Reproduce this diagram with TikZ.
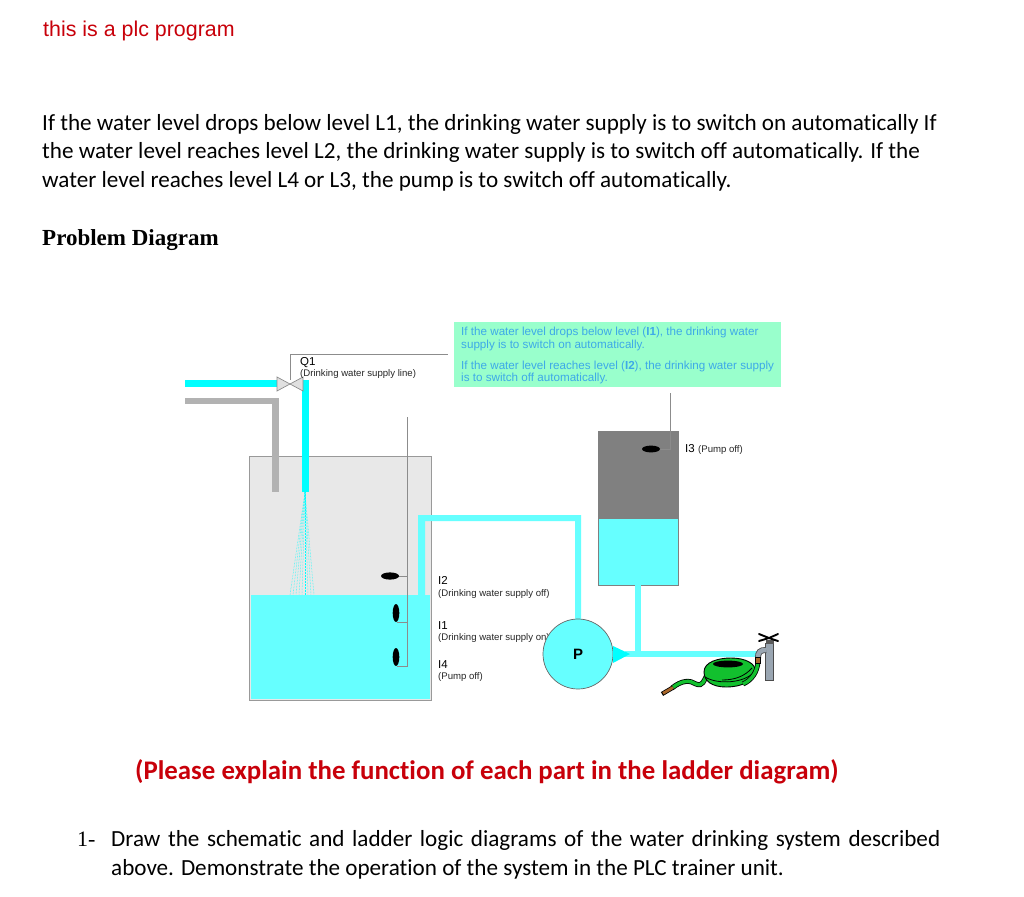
\documentclass[tikz,border=0pt]{standalone}
\usepackage{fontspec}
\setmainfont[Ligatures=NoCommon]{Carlito}
\newfontfamily\arialf{Liberation Sans}
\newfontfamily\timesf{Liberation Serif}
\definecolor{water}{HTML}{66FFFF}
\definecolor{bright}{HTML}{00FFFF}
\definecolor{mint}{HTML}{99FFCC}
\definecolor{minttext}{HTML}{3DA9E8}
\definecolor{hoseg}{HTML}{12C02E}
\definecolor{redt}{HTML}{C8000A}
\definecolor{hosebrown}{HTML}{A8662A}
\definecolor{tapgrey}{HTML}{9AA6B2}
\tikzset{
  body/.style={anchor=base west,inner sep=0pt,font=\fontsize{23.12}{23.12}\selectfont,text=black},
  lab/.style={anchor=base west,inner sep=0pt,font=\arialf\fontsize{9.6}{9.6}\selectfont,text=black!85},
  labhead/.style={anchor=base west,inner sep=0pt,font=\arialf\fontsize{11.5}{11.5}\selectfont,text=black},
  minttxt/.style={anchor=base west,inner sep=0pt,font=\arialf\fontsize{11.65}{11.65}\selectfont,text=minttext},
  thin line/.style={draw=black!45,line width=.9pt},
  hoseout/.style={draw=black,line width=5pt},
  hosein/.style={draw=hoseg,line width=3.4pt},
}
\begin{document}
\begin{tikzpicture}[x=1pt,y=-1pt]
\useasboundingbox (0,0) rectangle (1024,896);
\fill[white] (0,0) rectangle (1024,896);
\node[anchor=base west,inner sep=0pt,font=\arialf\fontsize{21.4}{21.4}\selectfont,text=redt] (t0) at (43,37) {this is a plc program};
\node[body] (t1) at (42,131) {If the water level drops below level L1, the drinking water supply is to switch on automatically If};
\node[body] (t2) at (42,159) {the water level reaches level L2, the drinking water supply is to switch off automatically. If the};
\node[body] (t3) at (42,187) {water level reaches level L4 or L3, the pump is to switch off automatically.};
\node[anchor=base west,inner sep=0pt,font=\timesf\bfseries\fontsize{23}{23}\selectfont] (t4) at (42,245) {Problem Diagram};
\node[anchor=base west,inner sep=0pt,font=\bfseries\fontsize{26.85}{26.85}\selectfont,text=redt] (t5) at (135,779) {(Please explain the function of each part in the ladder diagram)};
\node[anchor=base west,inner sep=0pt,font=\timesf\fontsize{22}{22}\selectfont] (t6) at (77,846) {1-};
\node[body] (t7) at (111,846) {\makebox[829pt][s]{Draw the schematic and ladder logic diagrams of the water drinking system described}};
\node[body] (t8) at (111,875) {above.  Demonstrate the operation of the system in the PLC trainer unit.};
% mint box
\fill[mint] (454,322) rectangle (781,387);
\node[minttxt] (m1) at (461,335) {If the water level drops below level (\textbf{I1}), the drinking water};
\node[minttxt] (m2) at (461,348) {supply is to switch on automatically.};
\node[minttxt] (m3) at (461,369) {If the water level reaches level (\textbf{I2}), the drinking water supply};
\node[minttxt] (m4) at (461,381) {is to switch off automatically.};
% tank
\draw[fill=black!9,draw=black!40,line width=.9pt] (249,456) rectangle (431,700);
\fill[water] (250.5,595) rectangle (430,699);
% spray
\foreach \xx in {290,293,296,299,302,305,308,311,314}
  \draw[bright,densely dotted,line width=.5pt] (305,492) -- (\xx,595);
% supply pipes
\fill[bright] (185,380) rectangle (279,387);
\fill[bright] (302,380) rectangle (309,492);
\fill[black!30] (185,398) rectangle (279,404);
\fill[black!30] (272,398) rectangle (279,492);
\draw[thin line] (290,380) -- (290,354) -- (448,354);
\draw[fill=black!12,draw=black!45,line width=.7pt] (277,377) -- (303,391) -- (303,377) -- (277,391) -- cycle;
\node[labhead] (q1) at (300,365) {Q1};
\node[lab] (q1b) at (300,376) {(Drinking water supply line)};
% sensor rod
\draw[thin line] (407,417) -- (407,666) -- (397,666);
\draw[thin line] (407,622) -- (397,622);
\draw[thin line] (407,576) -- (398,576);
\fill[black] (390,576) ellipse [x radius=9,y radius=3.6];
\fill[black] (396,613) ellipse [x radius=3.3,y radius=9];
\fill[black] (396,657) ellipse [x radius=3.3,y radius=9];
\node[labhead] (i2) at (438,584) {I2};
\node[lab] (i2b) at (438,596) {(Drinking water supply off)};
\node[labhead] (i1) at (438,629) {I1};
\node[lab] (i1b) at (438,640) {(Drinking water supply on)};
\node[labhead] (i4) at (438,668) {I4};
\node[lab] (i4b) at (438,679) {(Pump off)};
% pipe to upper tank
\fill[water] (418,595) -- (418,515) -- (581,515) -- (581,622) -- (575,622) -- (575,521) -- (425,521) -- (425,595) -- cycle;
% upper tank
\fill[black!50] (598,431) rectangle (678,519);
\fill[water] (598,519) rectangle (678,585);
\draw[black!50,line width=.8pt] (598,431) rectangle (678,585);
\fill[water] (635,585) rectangle (641,652);
\draw[thin line] (670,393) -- (670,449) -- (660,449);
\fill[black] (651,449) ellipse [x radius=9,y radius=3.4];
\node[labhead] (i3) at (685,452) {I3};
\node[lab] (i3b) at (698,452) {(Pump off)};
% delivery pipe
\fill[water] (625,651) rectangle (757,657);
\node[circle,draw=black!60,fill=water,line width=.7pt,minimum size=70pt,inner sep=0pt,font=\arialf\bfseries\fontsize{15}{15}\selectfont] (pump) at (578,654) {P};
\fill[bright] (613,646) -- (630,654) -- (613,663) -- cycle;
% hose tail
\draw[hoseout] (672,688) .. controls (682,680) and (690,680) .. (696,684) .. controls (703,687) and (704,680) .. (707,675);
\draw[hosein] (672,688) .. controls (682,680) and (690,680) .. (696,684) .. controls (703,687) and (704,680) .. (707,675);
\draw[black,line width=4.4pt] (662,694) -- (673,687.5);
\draw[hosebrown,line width=2.8pt] (663,693.4) -- (673,687.5);
% coil
\fill[hoseg,draw=black,line width=.9pt] (704,672) .. controls (704,662) and (718,658) .. (731,658) .. controls (746,658) and (756,664) .. (755,671) .. controls (754,681) and (742,687) .. (726,687) .. controls (712,687) and (704,681) .. (704,672) -- cycle;
\draw[black,line width=.8pt] (705,677) .. controls (718,685) and (745,683) .. (754,672);
\draw[black,line width=.8pt] (722,680) .. controls (735,680) and (745,676) .. (752,668);
\fill[black] (728,664) ellipse [x radius=15,y radius=3.4];
% hose to the tap
\draw[hoseout] (743,684) .. controls (752,680) and (757,672) .. (758,662);
\draw[hosein] (743,684) .. controls (752,680) and (757,672) .. (758,662);
% tap
\draw[black!70,fill=tapgrey,line width=.8pt] (765,643) rectangle (773,680);
\draw[black!70,line width=6pt] (758,658) .. controls (758,652) and (760,650) .. (766,650);
\draw[tapgrey,line width=4.4pt] (758,658) .. controls (758,652) and (760,650) .. (766,650);
\draw[black,fill=hosebrown,line width=.6pt] (755.5,657) rectangle (760.5,663);
\fill[black!65] (766,640) rectangle (774,644);
\draw[black,line width=1.9pt,line cap=round] (759,634) -- (769,638) -- (778,634) (759,641) -- (769,638) -- (778,641);
\end{tikzpicture}
\end{document}
